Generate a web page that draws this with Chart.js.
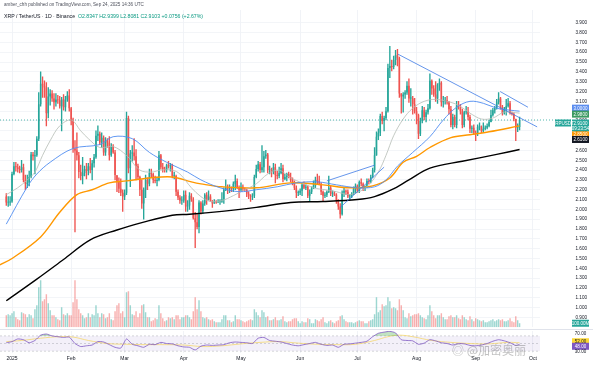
<!DOCTYPE html>
<html>
<head>
<meta charset="utf-8">
<script src="https://cdn.jsdelivr.net/npm/chart.js@4.4.1/dist/chart.umd.min.js"></script>
<style>
  body { margin: 0; background: #fff; width: 593px; height: 365px; overflow: hidden; position: relative; font-family: "Liberation Sans", Arial, sans-serif; }
  canvas { position: absolute; left: 0; }
  #price { top: 0; }
  #rsi { top: 329px; }
  .hdr { position: absolute; left: 4px; white-space: nowrap; color: #131722; }
  #h1 { top: 2px; font-size: 4.6px; color: #50535e; }
  #h2 { top: 13px; font-size: 5.2px; }
  #h2 .v { color: #089981; }
  #sep { position: absolute; left: 0; top: 329px; width: 593px; height: 1px; background: #e0e3eb; }
  #wm { position: absolute; left: 452px; top: 341px; font-size: 12px; color: rgba(120,120,120,0.45); font-family: "Noto Sans CJK SC", sans-serif; white-space: nowrap; }
</style>
</head>
<body>
<canvas id="price" width="593" height="330"></canvas>
<canvas id="rsi" width="593" height="36"></canvas>
<div id="sep"></div>
<div class="hdr" id="h1">amber_chh published on TradingView.com, Sep 24, 2025 14:36 UTC</div>
<div class="hdr" id="h2">XRP / TetherUS · 1D · Binance &nbsp;<span class="v">O2.8347 H2.9399 L2.8081 C2.9103 +0.0756 (+2.67%)</span></div>
<div id="wm">◎ @加密奥丽</div>
<script>
// daily candles, first one is Dec 29 2024 (day -3, day 0 = Jan 1 2025)
const START_DAY = -3;
const firstOpen = 2.13;
const closes = [
  2.07, 2.07, 2.08,
  2.36, 2.44, 2.43, 2.41, 2.40, 2.43, 2.30, 2.26, 2.27, 2.33, 2.56, 2.54, 2.55, 2.72, 3.07, 3.28, 3.26, 3.24, 2.98, 3.15, 3.18, 3.13, 3.09, 3.12, 3.11, 3.05, 3.12, 3.04, 3.12, 3.16, 3.03,
  2.90, 2.62, 2.60, 2.55, 2.38, 2.34, 2.37, 2.41, 2.39, 2.44, 2.40, 2.47, 2.53, 2.75, 2.77, 2.68, 2.73, 2.58, 2.70, 2.68, 2.55, 2.64, 2.58, 2.35, 2.28, 2.21, 2.17, 2.13,
  2.17, 2.93, 2.42, 2.57, 2.58, 2.54, 2.44, 2.33, 2.20, 2.06, 2.20, 2.30, 2.26, 2.37, 2.36, 2.30, 2.29, 2.30, 2.55, 2.43, 2.41, 2.40, 2.45, 2.44, 2.45, 2.34, 2.34, 2.18, 2.12, 2.09, 2.09,
  2.15, 2.03, 2.04, 2.14, 2.10, 1.91, 1.87, 1.82, 2.07, 1.98, 2.06, 2.15, 2.09, 2.13, 2.09, 2.06, 2.08, 2.07, 2.08, 2.08, 2.10, 2.20, 2.22, 2.21, 2.22, 2.21, 2.26, 2.29, 2.22, 2.20,
  2.23, 2.21, 2.20, 2.16, 2.14, 2.13, 2.14, 2.33, 2.41, 2.46, 2.40, 2.43, 2.54, 2.56, 2.40, 2.40, 2.38, 2.43, 2.35, 2.34, 2.37, 2.42, 2.31, 2.33, 2.36, 2.33, 2.30, 2.26, 2.22, 2.17, 2.17,
  2.19, 2.25, 2.22, 2.23, 2.14, 2.18, 2.21, 2.24, 2.30, 2.29, 2.26, 2.18, 2.14, 2.15, 2.18, 2.22, 2.16, 2.16, 2.15, 2.09, 2.03, 1.95, 2.17, 2.19, 2.18, 2.13, 2.13, 2.16, 2.21, 2.24,
  2.19, 2.28, 2.26, 2.23, 2.23, 2.29, 2.28, 2.33, 2.40, 2.55, 2.74, 2.78, 2.95, 2.90, 2.93, 3.00, 3.44, 3.46, 3.45, 3.52, 3.57, 3.54, 3.18, 3.15, 3.17, 3.19, 3.26, 3.13, 3.13, 3.07, 3.00,
  2.96, 2.77, 2.90, 3.01, 2.94, 2.99, 3.03, 3.31, 3.23, 3.17, 3.13, 3.27, 3.29, 3.09, 3.10, 3.11, 3.09, 3.02, 2.86, 2.94, 2.86, 3.06, 3.04, 3.00, 2.86, 2.99, 3.00, 2.94, 2.82, 2.83, 2.78,
  2.77, 2.84, 2.84, 2.80, 2.82, 2.83, 2.85, 2.89, 2.96, 3.01, 3.03, 3.09, 3.13, 3.04, 2.98, 3.02, 3.05, 3.08, 2.98, 2.97, 2.92, 2.83, 2.84, 2.91
];
const highs = [
  2.16, 2.13, 2.13,
  2.38, 2.48, 2.48, 2.46, 2.44, 2.50, 2.46, 2.35, 2.35, 2.39, 2.58, 2.58, 2.60, 2.74, 3.19, 3.40, 3.35, 3.31, 3.29, 3.24, 3.22, 3.21, 3.18, 3.18, 3.16, 3.15, 3.14, 3.17, 3.15, 3.20, 3.22,
  3.04, 2.93, 2.70, 2.78, 2.58, 2.45, 2.53, 2.44, 2.47, 2.47, 2.52, 2.50, 2.56, 2.80, 2.85, 2.79, 2.78, 2.75, 2.73, 2.72, 2.74, 2.67, 2.66, 2.60, 2.34, 2.32, 2.31, 2.20,
  2.20, 2.99, 2.95, 2.60, 2.65, 2.72, 2.61, 2.46, 2.34, 2.30, 2.22, 2.35, 2.32, 2.41, 2.41, 2.37, 2.34, 2.33, 2.59, 2.56, 2.47, 2.43, 2.46, 2.49, 2.47, 2.46, 2.38, 2.35, 2.20, 2.14, 2.13,
  2.19, 2.19, 2.09, 2.17, 2.16, 2.12, 1.97, 1.95, 2.09, 2.08, 2.09, 2.16, 2.17, 2.19, 2.15, 2.09, 2.10, 2.09, 2.10, 2.10, 2.17, 2.22, 2.30, 2.25, 2.25, 2.23, 2.28, 2.35, 2.31, 2.24,
  2.27, 2.25, 2.22, 2.21, 2.18, 2.15, 2.16, 2.35, 2.45, 2.49, 2.48, 2.65, 2.59, 2.60, 2.57, 2.44, 2.42, 2.47, 2.46, 2.39, 2.43, 2.47, 2.45, 2.36, 2.37, 2.38, 2.37, 2.32, 2.29, 2.24, 2.19,
  2.21, 2.27, 2.28, 2.25, 2.24, 2.20, 2.23, 2.29, 2.33, 2.36, 2.34, 2.27, 2.19, 2.17, 2.19, 2.34, 2.24, 2.19, 2.18, 2.16, 2.10, 2.06, 2.19, 2.22, 2.20, 2.20, 2.15, 2.17, 2.23, 2.26,
  2.25, 2.29, 2.31, 2.27, 2.24, 2.31, 2.31, 2.35, 2.42, 2.63, 2.79, 2.82, 2.97, 2.99, 2.95, 3.04, 3.48, 3.66, 3.52, 3.56, 3.62, 3.63, 3.55, 3.18, 3.19, 3.21, 3.30, 3.33, 3.23, 3.15, 3.13,
  3.04, 2.97, 2.93, 3.05, 3.04, 3.01, 3.07, 3.38, 3.32, 3.26, 3.30, 3.28, 3.33, 3.30, 3.15, 3.14, 3.15, 3.10, 3.05, 2.97, 2.96, 3.10, 3.10, 3.07, 3.02, 3.00, 3.05, 3.04, 2.96, 2.85, 2.86,
  2.80, 2.86, 2.88, 2.85, 2.88, 2.85, 2.87, 2.91, 3.01, 3.03, 3.05, 3.12, 3.19, 3.14, 3.06, 3.04, 3.12, 3.13, 3.10, 2.99, 2.98, 2.92, 2.87, 2.94
];
const lows = [
  2.04, 2.03, 2.04,
  2.07, 2.35, 2.39, 2.38, 2.37, 2.38, 2.28, 2.20, 2.22, 2.24, 2.32, 2.50, 2.36, 2.54, 2.70, 3.05, 3.14, 3.14, 2.85, 2.93, 3.06, 3.10, 3.02, 3.05, 3.08, 3.03, 2.80, 3.01, 3.00, 3.10, 3.00,
  2.86, 2.58, 1.77, 2.50, 2.32, 2.30, 2.26, 2.34, 2.31, 2.35, 2.37, 2.30, 2.43, 2.52, 2.70, 2.66, 2.63, 2.55, 2.55, 2.63, 2.50, 2.54, 2.57, 2.30, 2.18, 2.17, 2.14, 1.98,
  2.10, 2.15, 2.37, 2.23, 2.49, 2.50, 2.30, 2.31, 2.14, 2.01, 1.90, 2.12, 2.20, 2.24, 2.33, 2.27, 2.27, 2.24, 2.29, 2.41, 2.38, 2.38, 2.38, 2.42, 2.39, 2.32, 2.31, 2.14, 2.10, 2.06, 2.05,
  2.07, 1.98, 1.98, 2.00, 2.08, 1.90, 1.61, 1.80, 1.76, 1.95, 1.96, 2.04, 2.05, 2.11, 2.08, 2.02, 2.06, 2.06, 2.07, 2.05, 2.07, 2.06, 2.19, 2.16, 2.17, 2.18, 2.18, 2.20, 2.21, 2.12,
  2.19, 2.19, 2.19, 2.13, 2.11, 2.08, 2.10, 2.12, 2.32, 2.39, 2.37, 2.38, 2.38, 2.52, 2.37, 2.36, 2.33, 2.36, 2.27, 2.31, 2.32, 2.36, 2.28, 2.30, 2.29, 2.32, 2.28, 2.25, 2.20, 2.12, 2.14,
  2.15, 2.14, 2.21, 2.20, 2.12, 2.08, 2.16, 2.21, 2.22, 2.26, 2.25, 2.15, 2.08, 2.12, 2.13, 2.17, 2.14, 2.13, 2.14, 2.06, 2.00, 1.91, 1.94, 2.13, 2.15, 2.12, 2.10, 2.12, 2.15, 2.17,
  2.17, 2.17, 2.24, 2.19, 2.19, 2.22, 2.26, 2.27, 2.32, 2.38, 2.55, 2.71, 2.75, 2.87, 2.80, 2.91, 2.99, 3.34, 3.41, 3.43, 3.47, 3.46, 3.14, 2.98, 2.99, 3.13, 3.17, 3.09, 3.05, 2.97, 2.98,
  2.87, 2.72, 2.75, 2.88, 2.91, 2.89, 2.97, 3.02, 3.17, 3.15, 3.10, 3.08, 3.21, 3.05, 3.04, 3.07, 3.07, 2.97, 2.84, 2.82, 2.84, 2.83, 3.02, 2.97, 2.83, 2.84, 2.97, 2.91, 2.78, 2.78, 2.76,
  2.70, 2.75, 2.81, 2.78, 2.79, 2.81, 2.82, 2.84, 2.89, 2.95, 2.98, 3.02, 3.07, 3.02, 2.96, 2.97, 2.96, 3.04, 2.97, 2.96, 2.90, 2.70, 2.79, 2.81
];
// volume, millions of XRP
const volumeM = [
  300, 325, 300,
  350, 400, 250, 200, 175, 375, 350, 325, 250, 325, 300, 225, 450, 550, 1000, 1175, 650, 700, 825, 600, 425, 300, 300, 250, 200, 175, 500, 325, 300, 350, 300,
  300, 625, 1175, 700, 450, 350, 300, 225, 250, 350, 250, 325, 300, 550, 350, 250, 350, 325, 225, 250, 350, 200, 175, 400, 550, 600, 350, 400,
  250, 875, 900, 550, 325, 300, 400, 250, 350, 550, 575, 375, 250, 250, 150, 175, 225, 200, 550, 350, 225, 150, 175, 250, 225, 250, 200, 300, 300, 200, 250,
  250, 300, 300, 250, 200, 400, 750, 450, 675, 400, 250, 225, 250, 200, 175, 200, 150, 125, 125, 125, 200, 300, 300, 175, 175, 125, 150, 300, 200, 200,
  175, 150, 125, 150, 175, 200, 175, 450, 375, 300, 250, 425, 375, 250, 275, 175, 175, 200, 250, 175, 175, 200, 275, 150, 125, 150, 150, 200, 225, 225, 150,
  100, 150, 125, 125, 225, 200, 100, 100, 200, 175, 150, 200, 250, 125, 100, 150, 175, 125, 100, 150, 175, 275, 300, 200, 150, 125, 125, 125, 100, 125,
  150, 175, 150, 150, 100, 100, 150, 175, 200, 325, 750, 375, 425, 575, 525, 550, 750, 650, 475, 500, 475, 425, 700, 550, 425, 250, 225, 350, 275, 300, 325,
  325, 350, 300, 250, 225, 200, 300, 550, 400, 300, 225, 300, 300, 350, 250, 200, 200, 275, 300, 250, 250, 300, 225, 200, 300, 250, 200, 175, 275, 200, 150,
  225, 200, 175, 150, 175, 125, 125, 150, 175, 200, 150, 175, 200, 175, 200, 150, 150, 175, 225, 150, 125, 275, 175, 100
];
// moving averages: [day, price]
const maFast = [[-3, 2.15], [3, 2.22], [8, 2.30], [12, 2.38], [16, 2.55], [20, 2.70], [25, 2.85], [31, 2.91], [36, 2.80], [40, 2.72], [46, 2.63], [53, 2.64], [60, 2.55], [67, 2.40], [73, 2.38], [78, 2.40], [84, 2.40], [88, 2.36], [94, 2.22], [99, 2.13], [104, 2.08], [110, 2.09], [116, 2.14], [122, 2.20], [128, 2.26], [134, 2.36], [140, 2.40], [146, 2.32], [152, 2.27], [158, 2.22], [164, 2.20], [170, 2.18], [176, 2.15], [182, 2.18], [187, 2.25], [192, 2.38], [196, 2.55], [200, 2.75], [205, 2.92], [210, 3.03], [216, 3.10], [222, 3.12], [228, 3.10], [234, 3.06], [240, 2.98], [246, 2.92], [252, 2.93], [258, 2.99], [266, 2.98]];
const ma50 = [[-3, 1.85], [8, 2.23], [13, 2.36], [20, 2.48], [32, 2.62], [46, 2.66], [53, 2.74], [63, 2.72], [72, 2.58], [81, 2.48], [92, 2.38], [99, 2.30], [109, 2.22], [119, 2.18], [128, 2.20], [139, 2.23], [149, 2.27], [160, 2.28], [170, 2.25], [181, 2.22], [190, 2.23], [196, 2.30], [202, 2.44], [210, 2.58], [219, 2.74], [226, 2.91], [233, 3.04], [240, 3.10], [247, 3.08], [254, 3.03], [261, 3.01], [266, 3.00]];
const ma100 = [[-7, 1.43], [0, 1.50], [15, 1.72], [25, 1.97], [34, 2.15], [42, 2.20], [51, 2.27], [60, 2.29], [72, 2.32], [84, 2.33], [94, 2.28], [99, 2.26], [110, 2.23], [128, 2.22], [146, 2.27], [163, 2.25], [177, 2.22], [189, 2.24], [198, 2.32], [205, 2.48], [212, 2.54], [219, 2.63], [230, 2.73], [240, 2.76], [250, 2.79], [266, 2.85]];
const ma200 = [[-3, 1.07], [13, 1.29], [27, 1.49], [41, 1.69], [55, 1.79], [69, 1.87], [84, 1.94], [93, 1.95], [110, 1.98], [128, 2.02], [146, 2.07], [163, 2.08], [181, 2.10], [190, 2.13], [199, 2.20], [208, 2.30], [219, 2.42], [236, 2.49], [254, 2.56], [266, 2.61]];
// drawn trend lines: [[day, price], [day, price]]
const trendLines = [
  [[202.3, 3.58], [275.2, 2.84]],
  [[255.8, 3.20], [270.4, 3.04]],
  [[172.0, 2.02], [195.0, 2.43]],
  [[165.0, 2.29], [190.0, 2.45]]
];
// RSI(14) and its moving average: [day, value]
const rsi = [[-3, 52], [0, 55], [3, 62], [6, 60], [9, 52], [12, 58], [15, 72], [18, 75], [21, 70], [24, 68], [27, 66], [30, 67], [33, 50], [36, 42], [39, 44], [42, 46], [45, 55], [48, 54], [51, 47], [54, 40], [57, 38], [60, 62], [63, 48], [66, 44], [69, 40], [72, 48], [75, 47], [78, 53], [81, 50], [84, 49], [87, 44], [90, 41], [93, 40], [96, 33], [99, 43], [102, 46], [105, 45], [108, 46], [111, 47], [114, 52], [117, 54], [120, 53], [123, 52], [126, 50], [129, 64], [132, 66], [135, 58], [138, 56], [141, 54], [144, 50], [147, 46], [150, 44], [153, 47], [156, 50], [159, 53], [162, 48], [165, 45], [168, 46], [171, 40], [174, 48], [177, 49], [180, 51], [183, 53], [186, 56], [189, 68], [192, 77], [195, 80], [198, 82], [201, 78], [204, 60], [207, 58], [210, 57], [213, 48], [216, 51], [219, 60], [222, 57], [225, 52], [228, 50], [231, 46], [234, 50], [237, 49], [240, 45], [243, 44], [246, 46], [249, 50], [252, 56], [255, 60], [258, 57], [261, 52], [264, 45], [266, 48]];
const rsiMa = [[-3, 55], [5, 58], [15, 64], [25, 68], [32, 67], [40, 58], [50, 50], [60, 48], [70, 47], [80, 47], [90, 46], [100, 42], [110, 44], [120, 49], [130, 53], [140, 55], [150, 51], [160, 48], [170, 47], [180, 48], [190, 58], [197, 68], [203, 72], [210, 68], [220, 58], [230, 53], [240, 50], [250, 49], [260, 53], [266, 52]];
const monthDays = [0, 31, 59, 90, 120, 151, 181, 212, 243, 273];
const monthLabels = ['2025', 'Feb', 'Mar', 'Apr', 'May', 'Jun', 'Jul', 'Aug', 'Sep', 'Oct'];
const priceTicks = [0.9, 1.0, 1.1, 1.2, 1.3, 1.4, 1.5, 1.6, 1.7, 1.8, 1.9, 2.0, 2.1, 2.2, 2.3, 2.4, 2.5, 2.6, 2.7, 2.8, 2.9, 3.0, 3.1, 3.2, 3.3, 3.4, 3.5, 3.6, 3.7, 3.8, 3.9];

const UP = '#26a69a', DOWN = '#ef5350';
const X_MIN = -6.3, X_MAX = 276.7;
const FONT = '"Liberation Sans", Arial, sans-serif';

const days = closes.map((c, i) => i + START_DAY);
const opens = closes.map((c, i) => i ? closes[i - 1] : firstOpen);
const isUp = closes.map((c, i) => c >= opens[i]);
const pts = arr => arr.map(p => ({ x: p[0], y: p[1] }));

function xScale(showLabels) {
  return {
    type: 'linear', min: X_MIN, max: X_MAX, offset: false,
    afterBuildTicks: s => { s.ticks = monthDays.map(v => ({ value: v })); },
    afterFit: s => { s.height = showLabels ? 12 : 0; },
    ticks: {
      display: showLabels, autoSkip: false, maxRotation: 0, padding: 3,
      font: { size: 5, family: FONT }, color: '#131722',
      callback: v => monthLabels[monthDays.indexOf(v)]
    },
    grid: { color: '#eef0f5', lineWidth: 0.8, drawTicks: false, offset: false },
    border: { display: false }
  };
}

function tag(ctx, y, bg, text, fg) {
  ctx.fillStyle = bg;
  ctx.fillRect(572, y - 3.5, 17, 7);
  ctx.fillStyle = fg || '#fff';
  ctx.font = '4.5px ' + FONT;
  ctx.textAlign = 'center';
  ctx.textBaseline = 'middle';
  ctx.fillText(text, 580.5, y + 0.3);
}

const priceDecor = {
  id: 'priceDecor',
  beforeDatasetsDraw(chart) {
    const { ctx, chartArea, scales } = chart;
    const y = scales.y.getPixelForValue(closes[closes.length - 1]);
    ctx.save();
    ctx.strokeStyle = UP;
    ctx.lineWidth = 0.8;
    ctx.setLineDash([1, 2]);
    ctx.beginPath();
    ctx.moveTo(chartArea.left, y);
    ctx.lineTo(572, y);
    ctx.stroke();
    ctx.restore();
  },
  afterDraw(chart) {
    const { ctx, scales } = chart;
    const last = a => a[a.length - 1][1];
    const c = closes[closes.length - 1];
    ctx.save();
    tag(ctx, scales.y.getPixelForValue(last(ma50)) - 3, '#5b8def', last(ma50).toFixed(4));
    tag(ctx, scales.y.getPixelForValue(last(maFast)) + 1, '#3c9a62', last(maFast).toFixed(4));
    const yc = scales.y.getPixelForValue(c) + 3;
    ctx.fillStyle = UP;
    ctx.fillRect(572, yc - 3.5, 17, 12);
    ctx.fillRect(555, yc - 3.5, 16, 7);
    ctx.fillStyle = '#fff';
    ctx.font = '4.5px ' + FONT;
    ctx.textAlign = 'center';
    ctx.textBaseline = 'middle';
    ctx.fillText(c.toFixed(4), 580.5, yc + 0.3);
    ctx.fillText('09:23:54', 580.5, yc + 5.5);
    ctx.fillText('XRPUSDT', 563, yc + 0.3);
    tag(ctx, scales.y.getPixelForValue(last(ma100)) + 9, '#ff9800', last(ma100).toFixed(4));
    tag(ctx, scales.y.getPixelForValue(last(ma200)) - 10, '#131722', last(ma200).toFixed(4));
    const v = volumeM[volumeM.length - 1];
    tag(ctx, scales.yv.getPixelForValue(0) - 4, UP, v.toFixed(2) + 'M');
    ctx.restore();
  }
};

const lineDs = (data, color, width, order) => ({
  type: 'line', data: pts(data), borderColor: color, borderWidth: width,
  pointRadius: 0, tension: 0.35, fill: false, order, yAxisID: 'y'
});

new Chart(document.getElementById('price'), {
  type: 'bar',
  data: {
    datasets: [
      {
        yAxisID: 'yv', order: 10, grouped: false,
        data: days.map((d, i) => ({ x: d, y: volumeM[i] })),
        backgroundColor: isUp.map(u => u ? 'rgba(38,166,154,0.45)' : 'rgba(239,83,80,0.45)'),
        categoryPercentage: 1, barPercentage: 0.75
      },
      {
        yAxisID: 'y', order: 6, grouped: false,
        data: days.map((d, i) => ({ x: d, y: [lows[i], highs[i]] })),
        backgroundColor: isUp.map(u => u ? UP : DOWN),
        barThickness: 0.7
      },
      {
        yAxisID: 'y', order: 5, grouped: false,
        data: days.map((d, i) => ({ x: d, y: [opens[i], closes[i]] })),
        backgroundColor: isUp.map(u => u ? UP : DOWN),
        categoryPercentage: 1, barPercentage: 0.8, minBarLength: 0.8
      },
      lineDs(ma200, '#000000', 1.4, 3),
      lineDs(ma100, '#ff9800', 1.4, 3),
      lineDs(ma50, '#4f8cf0', 0.9, 2),
      lineDs(maFast, '#b5bdb5', 0.8, 2),
      ...trendLines.map(t => ({
        type: 'line', data: pts(t), borderColor: '#3f7be6', borderWidth: 0.8,
        pointRadius: 0, fill: false, order: 1, yAxisID: 'y'
      }))
    ]
  },
  options: {
    responsive: false, animation: false, devicePixelRatio: 1,
    layout: { padding: { top: 10, bottom: 0, left: 0, right: 6 } },
    plugins: { legend: { display: false }, tooltip: { enabled: false } },
    scales: {
      x: xScale(false),
      y: {
        position: 'right', min: 0.80, max: 4.03,
        afterBuildTicks: s => { s.ticks = priceTicks.map(v => ({ value: v })); },
        afterFit: s => { s.width = 47; },
        ticks: { autoSkip: false, padding: 0, crossAlign: 'far', font: { size: 4.6, family: FONT }, color: '#131722', callback: v => v.toFixed(3) },
        grid: { color: '#f0f2f6', lineWidth: 0.8, drawTicks: false },
        border: { display: false }
      },
      yv: { display: false, min: 0, max: 7950 }
    }
  },
  plugins: [priceDecor]
});

const rsiDecor = {
  id: 'rsiDecor',
  beforeDatasetsDraw(chart) {
    const { ctx, chartArea, scales } = chart;
    const y70 = scales.y.getPixelForValue(70), y30 = scales.y.getPixelForValue(30), y50 = scales.y.getPixelForValue(50);
    ctx.save();
    ctx.fillStyle = 'rgba(126,87,194,0.09)';
    ctx.fillRect(chartArea.left, y70, chartArea.right - chartArea.left, y30 - y70);
    ctx.strokeStyle = 'rgba(120,123,134,0.6)';
    ctx.lineWidth = 0.5;
    ctx.setLineDash([2, 2]);
    [y70, y50, y30].forEach(y => {
      ctx.beginPath(); ctx.moveTo(chartArea.left, y); ctx.lineTo(chartArea.right, y); ctx.stroke();
    });
    ctx.restore();
  },
  afterDraw(chart) {
    const { ctx, scales } = chart;
    ctx.save();
    ctx.fillStyle = '#131722';
    ctx.font = '4.5px ' + FONT;
    ctx.textAlign = 'center';
    ctx.textBaseline = 'middle';
    ctx.fillText('70.00', 580.5, scales.y.getPixelForValue(75));
    tag(ctx, scales.y.getPixelForValue(rsiMa[rsiMa.length - 1][1]) - 1, '#fdd835', rsiMa[rsiMa.length - 1][1].toFixed(2), '#131722');
    tag(ctx, scales.y.getPixelForValue(rsi[rsi.length - 1][1]) + 2, '#7e57c2', rsi[rsi.length - 1][1].toFixed(2));
    ctx.fillStyle = '#131722';
    ctx.fillText('30.00', 580.5, scales.y.getPixelForValue(27));
    ctx.restore();
  }
};

new Chart(document.getElementById('rsi'), {
  type: 'line',
  data: {
    datasets: [
      {
        data: pts(rsi), borderColor: '#7e57c2', borderWidth: 0.8, pointRadius: 0, tension: 0.2,
        fill: { target: { value: 70 }, above: 'rgba(76,175,80,0.35)', below: 'rgba(0,0,0,0)' }
      },
      { data: pts(rsiMa), borderColor: '#f5d76e', borderWidth: 0.8, pointRadius: 0, tension: 0.4, fill: false }
    ]
  },
  options: {
    responsive: false, animation: false, devicePixelRatio: 1,
    layout: { padding: { top: 2, bottom: 0, left: 0, right: 6 } },
    plugins: { legend: { display: false }, tooltip: { enabled: false } },
    scales: {
      x: xScale(true),
      y: {
        position: 'right', min: 25, max: 83,
        afterFit: s => { s.width = 47; },
        ticks: { display: false },
        grid: { display: false },
        border: { display: false }
      }
    }
  },
  plugins: [rsiDecor]
});
</script>
</body>
</html>
